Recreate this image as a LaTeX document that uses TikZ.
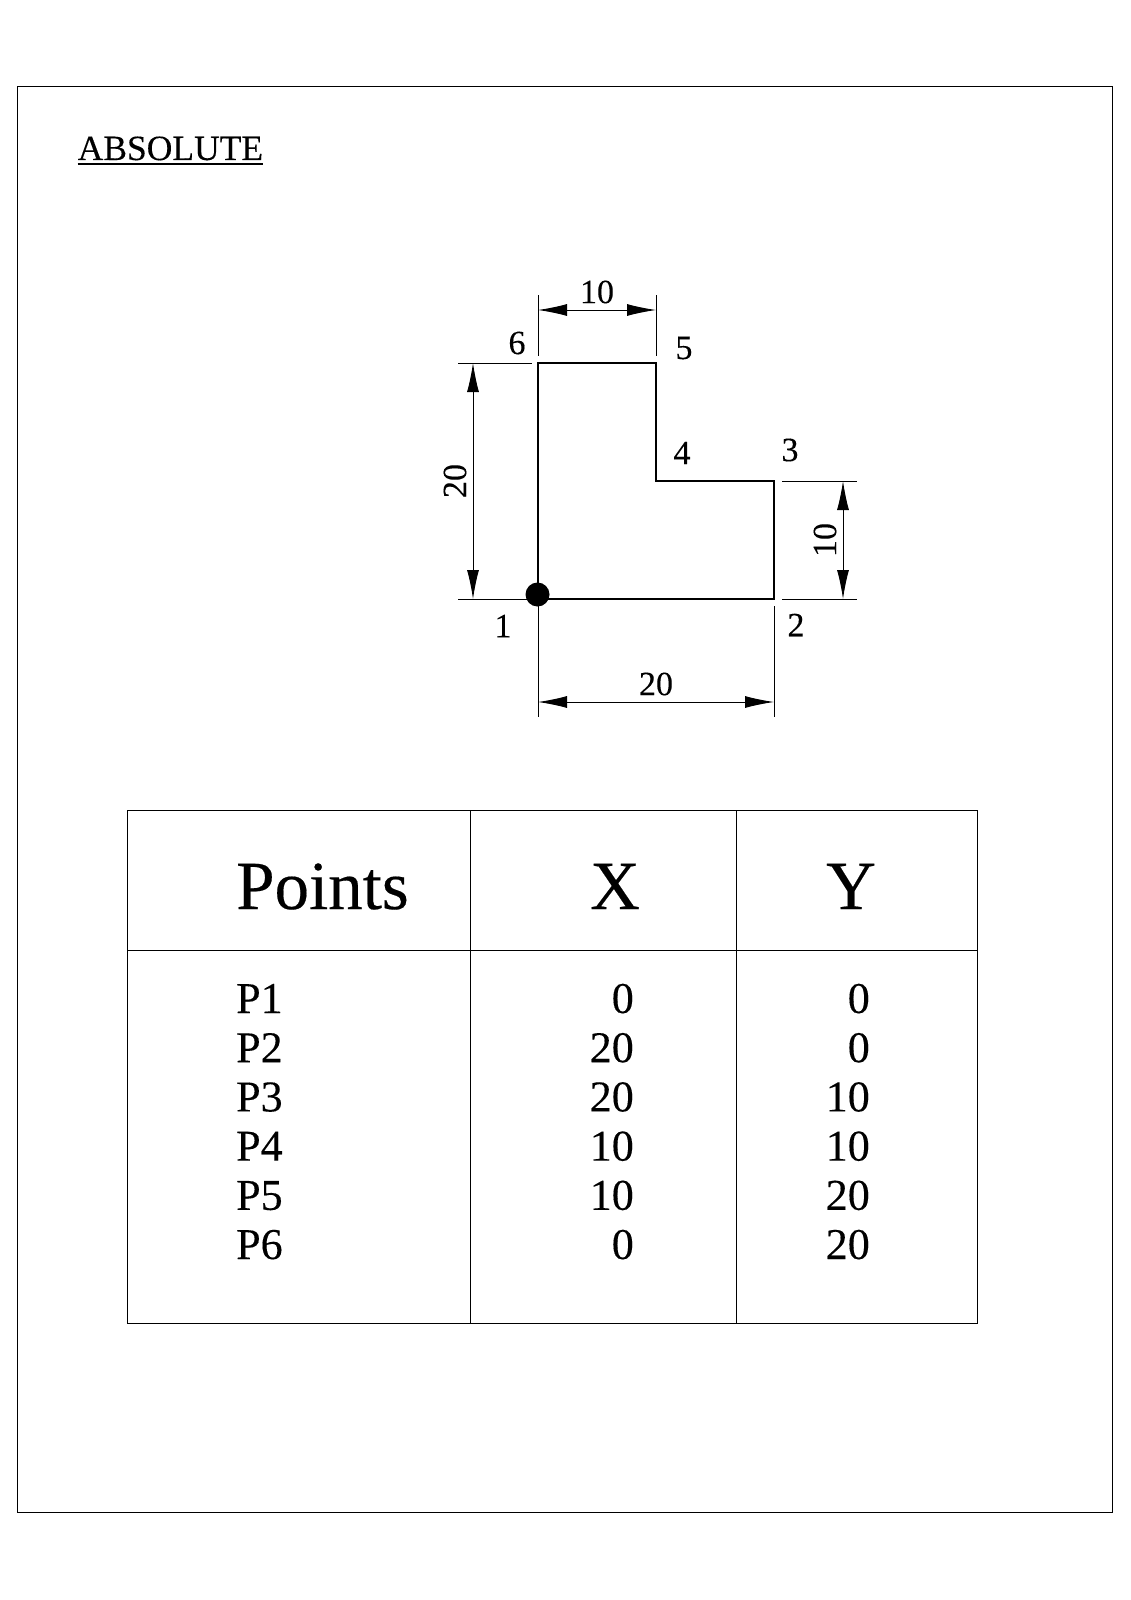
\documentclass[tikz,border=0pt]{standalone}
\usepackage{fontspec}
\setmainfont{Liberation Serif}[FakeBold=0.25]
\usetikzlibrary{arrows.meta,positioning}
\tikzset{
    thinline/.style={line width=0.9pt},
    profile/.style={line width=1.7pt},
    dimline/.style={thinline,{Latex[length=29pt,width=12pt]}-{Latex[length=29pt,width=12pt]}},
    dimtext/.style={inner sep=0pt,font=\fontsize{34}{34}\selectfont},
    rowtext/.style={inner sep=0pt,font=\fontsize{44}{44}\selectfont},
    headtext/.style={inner sep=0pt,font=\fontsize{69}{69}\selectfont},
}
\begin{document}
\begin{tikzpicture}[x=1pt,y=-1pt]
    \useasboundingbox (0,0) rectangle (1130,1600);
    \def\Xa{538}
    \def\Xb{656}
    \def\Xc{774}
    \def\Ya{363}
    \def\Yb{481}
    \def\Yc{599}

    % sheet and title
    \draw[line width=1pt] (17,87) rectangle (1112,1512);
    \node[anchor=base west,inner sep=0pt,font=\fontsize{35.5}{35.5}\selectfont] (title) at (77.5,160) {ABSOLUTE};
    \draw[line width=2.2pt] (title.base west)++(0,4) -- ++(185,0);

    % profile
    \coordinate (P1) at (\Xa,\Yc);
    \coordinate (P2) at (\Xc,\Yc);
    \coordinate (P3) at (\Xc,\Yb);
    \coordinate (P4) at (\Xb,\Yb);
    \coordinate (P5) at (\Xb,\Ya);
    \coordinate (P6) at (\Xa,\Ya);
    \draw[profile] (P1) -- (P2) -- (P3) -- (P4) -- (P5) -- (P6) -- cycle;
    \fill (537.5,594.5) circle (12);

    % extension lines
    \draw[thinline] (\Xa,295) -- (\Xa,356);
    \draw[thinline] (\Xb,295) -- (\Xb,356);
    \draw[thinline] (458,\Ya) -- (532,\Ya);
    \draw[thinline] (458,\Yc) -- (P1);
    \draw[thinline] (P1) -- (\Xa,717);
    \draw[thinline] (\Xc,606) -- (\Xc,717);
    \draw[thinline] (782,\Yb) -- (857,\Yb);
    \draw[thinline] (782,\Yc) -- (857,\Yc);

    % dimensions
    \draw[dimline] (\Xa,310) -- (\Xb,310);
    \draw[dimline] (473,\Ya) -- (473,\Yc);
    \draw[dimline] (843,\Yb) -- (843,\Yc);
    \draw[dimline] (\Xa,702) -- (\Xc,702);
    \node[dimtext] (dimtop) at (597,292) {10};
    \node[dimtext] (dimbottom) at (656,684) {20};
    \node[dimtext,rotate=90] (dimleft) at (455,481) {20};
    \node[dimtext,rotate=90] (dimright) at (825,540) {10};

    % point numbers
    \node[dimtext] (n1) at (503,626) {1};
    \node[dimtext] (n2) at (796,625) {2};
    \node[dimtext] (n3) at (790,450) {3};
    \node[dimtext] (n4) at (682,453) {4};
    \node[dimtext] (n5) at (684,348) {5};
    \node[dimtext] (n6) at (517,343) {6};

    % table
    \draw[thinline] (127,810) rectangle (977,1323);
    \draw[thinline] (127,950) -- (977,950);
    \draw[thinline] (470,810) -- (470,1323);
    \draw[thinline] (736,810) -- (736,1323);
    \node[headtext,anchor=base west] (points) at (236,909) {Points};
    \node[headtext,anchor=base] (colx) at (615,909) {X};
    \node[headtext,anchor=base] (coly) at (851,909) {Y};
    \foreach \n/\px/\py [count=\i from 0] in {1/0/0,2/20/0,3/20/10,4/10/10,5/10/20,6/0/20} {
        \node[rowtext,anchor=base west] (row\n) at (236,1013+49.2*\i) {P\n};
        \node[rowtext,anchor=base east] (rowx\n) at (634,1013+49.2*\i) {\px};
        \node[rowtext,anchor=base east] (rowy\n) at (870,1013+49.2*\i) {\py};
    }
\end{tikzpicture}
\end{document}
